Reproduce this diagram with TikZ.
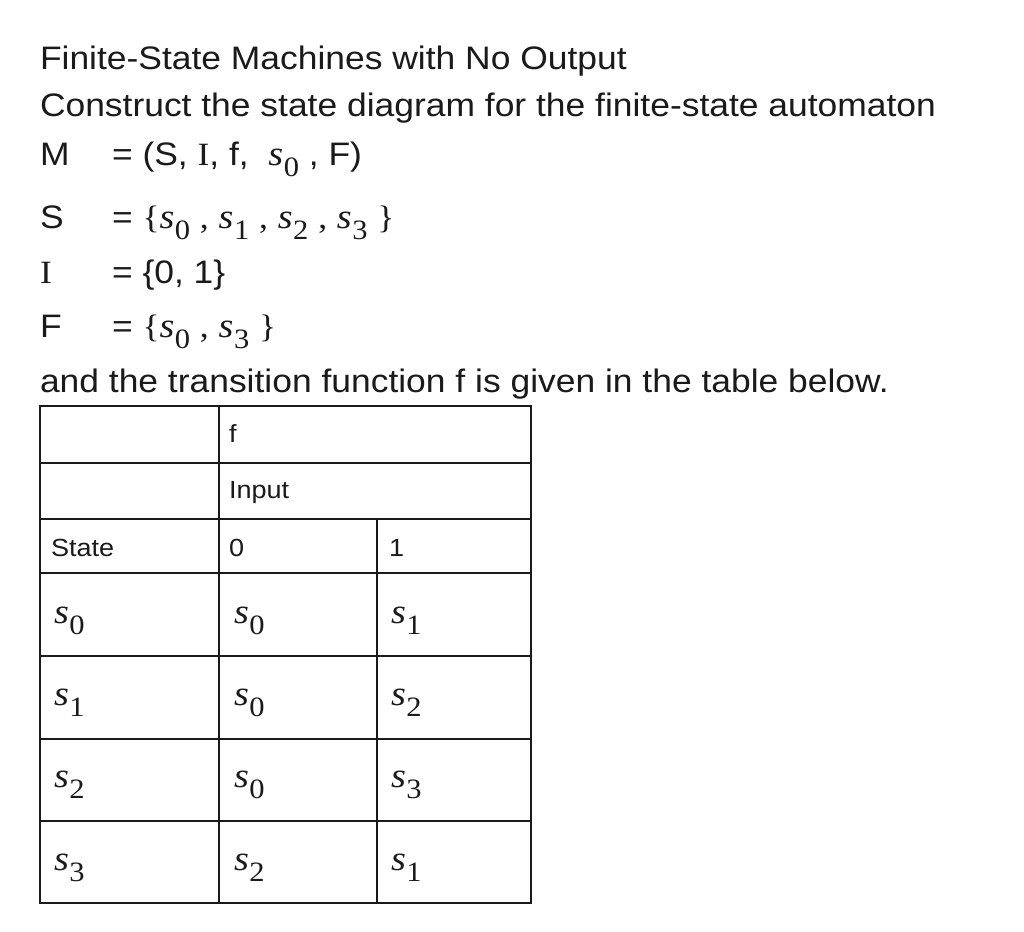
\documentclass[tikz,border=0pt]{standalone}
\usepackage{fontspec}
\setmainfont[FakeStretch=1.09]{Liberation Sans}
\newfontfamily\tms[FakeStretch=1.09]{Liberation Serif}
\newcommand\sv[1]{{\tms\fontsize{35}{38}\selectfont\itshape s}\kern0.5pt\raisebox{-11pt}{\fontsize{28}{30}\selectfont\tms #1}}
\definecolor{ink}{HTML}{1A1A1A}
\tikzset{
  txt/.style={anchor=base west, inner sep=0pt, outer sep=0pt, text=ink, font=\fontsize{32.5}{38}\selectfont},
  cell/.style={anchor=base west, inner sep=0pt, outer sep=0pt, text=ink, font=\fontsize{24.8}{30}\selectfont},
  sc/.style={anchor=base west, inner sep=0pt, outer sep=0pt, text=ink, font=\fontsize{32.5}{38}\selectfont},
  grid/.style={draw=ink, line width=1.4pt}
}
\begin{document}
\begin{tikzpicture}[x=1pt,y=-1pt]
\useasboundingbox[fill=white] (0,0) rectangle (1024,931);
% heading text
\node[txt] (t1) at (40,70) {Finite-State Machines with No Output};
\node[txt] (t2) at (40,117) {Construct the state diagram for the finite-state automaton};
\node[txt] (mL) at (40,165) {M};
\node[txt] (mR) at (112,165) {= (S, {\tms I}, f, \ \sv{0} , F)};
\node[txt] (sL) at (40,228) {S};
\node[txt] (sR) at (112,228) {= {\tms\{}\sv{0} {\tms,} \sv{1} {\tms,} \sv{2} {\tms,} \sv{3} {\tms\}}};
\node[txt] (iL) at (40,283) {\tms I};
\node[txt] (iR) at (112,283) {= \{0, 1\}};
\node[txt] (fL) at (40,337) {F};
\node[txt] (fR) at (112,337) {= {\tms\{}\sv{0} {\tms,} \sv{3} {\tms\}}};
\node[txt] (t3) at (40,392) {and the transition function f is given in the table below.};
% table grid
\draw[grid] (40,406) rectangle (531,903);
\draw[grid] (40,463) -- (531,463);
\draw[grid] (40,519) -- (531,519);
\draw[grid] (40,573) -- (531,573);
\draw[grid] (40,656) -- (531,656);
\draw[grid] (40,739) -- (531,739);
\draw[grid] (40,821) -- (531,821);
\draw[grid] (219,406) -- (219,903);
\draw[grid] (377,519) -- (377,903);
% table header
\node[cell] (hf) at (229,442) {f};
\node[cell] (hin) at (229,498) {Input};
\node[cell] (hst) at (51,556) {State};
\node[cell] (h0) at (229,556) {0};
\node[cell] (h1) at (389,556) {1};
% table body
\node[sc] (a0) at (54,623) {\sv{0}};
\node[sc] (b0) at (234,623) {\sv{0}};
\node[sc] (c0) at (391,623) {\sv{1}};
\node[sc] (a1) at (54,705) {\sv{1}};
\node[sc] (b1) at (234,705) {\sv{0}};
\node[sc] (c1) at (391,705) {\sv{2}};
\node[sc] (a2) at (54,787) {\sv{2}};
\node[sc] (b2) at (234,787) {\sv{0}};
\node[sc] (c2) at (391,787) {\sv{3}};
\node[sc] (a3) at (54,870) {\sv{3}};
\node[sc] (b3) at (234,870) {\sv{2}};
\node[sc] (c3) at (391,870) {\sv{1}};
\end{tikzpicture}
\end{document}
